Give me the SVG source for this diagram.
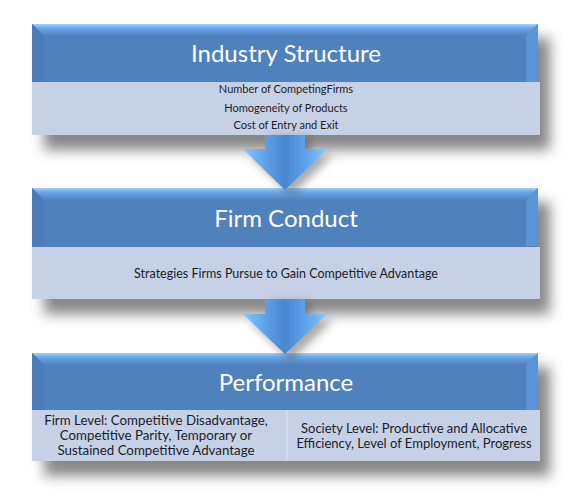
<svg xmlns="http://www.w3.org/2000/svg" width="577" height="498" viewBox="0 0 577 498">
<style>
.hdr{fill:#4F81BD}
.band{fill:#C6D1E5}
.title{font-family:Lato,"Liberation Sans",sans-serif;font-size:24px;fill:#ffffff;text-anchor:middle}
.sub{font-family:Lato,"Liberation Sans",sans-serif;fill:#1c1c28;text-anchor:middle}
.shadow{fill:#555555;filter:url(#blur)}
</style>
<defs>
<filter id="blur" x="-10%" y="-40%" width="120%" height="180%"><feGaussianBlur stdDeviation="6.5"/></filter>
<filter id="ablur" x="-30%" y="-30%" width="160%" height="160%"><feGaussianBlur stdDeviation="4"/></filter>
<linearGradient id="topg" x1="0" y1="0" x2="0" y2="1">
<stop offset="0" stop-color="#9fd3ff"/><stop offset="0.35" stop-color="#6aa6e8"/><stop offset="1" stop-color="#4F81BD"/>
</linearGradient>
<linearGradient id="arrg" gradientUnits="userSpaceOnUse" x1="243" y1="0" x2="327" y2="0">
<stop offset="0" stop-color="#86c8ff"/><stop offset="0.28" stop-color="#5c9fe8"/><stop offset="0.5" stop-color="#4a86d0"/><stop offset="0.72" stop-color="#5c9fe8"/><stop offset="1" stop-color="#86c8ff"/>
</linearGradient>
<g id="bevel">
<polygon points="0,0 506,0 494,12 12,12" fill="url(#topg)"/>
<polygon points="0,0 12,12 12,58 0,58" fill="#4a7cbc"/>
<polygon points="506,0 494,12 494,58 506,58" fill="#5a93d8"/>
</g>
</defs>

<g id="industry-structure">
<rect class="shadow" x="44" y="38" width="506" height="112" opacity="0.7"/>
<rect class="hdr" x="32" y="24" width="506" height="58"/>
<use href="#bevel" x="32" y="24"/>
<rect class="band" x="32" y="82" width="508" height="53"/>
<text class="title" x="286" y="62">Industry Structure</text>
<text class="sub" x="286" y="93" font-size="11">Number of CompetingFirms</text>
<text class="sub" x="286" y="112" font-size="11">Homogeneity of Products</text>
<text class="sub" x="286" y="129" font-size="11">Cost of Entry and Exit</text>
</g>

<g id="firm-conduct">
<rect class="shadow" x="44" y="202" width="506" height="112" opacity="0.7"/>
<rect class="hdr" x="32" y="188" width="506" height="59"/>
<use href="#bevel" x="32" y="188"/>
<rect class="band" x="32" y="247" width="508" height="52"/>
<text class="title" x="286" y="227">Firm Conduct</text>
<text class="sub" x="286" y="278" font-size="12.5">Strategies Firms Pursue to Gain Competitive Advantage</text>
</g>

<g id="performance">
<rect class="shadow" x="44" y="367" width="506" height="109" opacity="0.7"/>
<rect class="hdr" x="32" y="353" width="506" height="57"/>
<use href="#bevel" x="32" y="353"/>
<rect class="band" x="32" y="410" width="508" height="51"/>
<rect x="286" y="410" width="2" height="51" fill="#d3dbea"/>
<text class="title" x="286" y="391">Performance</text>
<text class="sub" x="156" y="425" font-size="13.3">Firm Level: Competitive Disadvantage,</text>
<text class="sub" x="156" y="440" font-size="13.3">Competitive Parity, Temporary or</text>
<text class="sub" x="156" y="455" font-size="13.3">Sustained Competitive Advantage</text>
<text class="sub" x="414" y="433" font-size="13">Society Level: Productive and Allocative</text>
<text class="sub" x="414" y="448" font-size="13">Efficiency, Level of Employment,  Progress</text>
</g>

<g id="connectors">
<path d="M271,137 H311 V155 H333 L291,196 L249,155 H271 Z" fill="#555" opacity="0.5" filter="url(#ablur)"/>
<path d="M265,135 H305 V149 H327 L285,190 L243,149 H265 Z" fill="url(#arrg)"/>
<path d="M271,302 H311 V320 H333 L291,361 L249,320 H271 Z" fill="#555" opacity="0.5" filter="url(#ablur)"/>
<path d="M265,299 H305 V314 H327 L285,354 L243,314 H265 Z" fill="url(#arrg)"/>
</g>
</svg>
